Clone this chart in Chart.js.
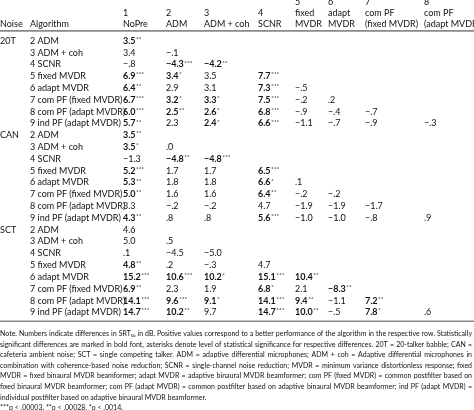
<!DOCTYPE html>
<html>
<head>
<meta charset="utf-8">
<script src="https://cdn.jsdelivr.net/npm/chart.js@4"></script>
<style>
  body { margin: 0; background: #fff; }
  canvas { display: block; }
</style>
</head>
<body>
<canvas id="table" width="474" height="410"></canvas>
<script>
// Table contents
const noises = ['20T', 'CAN', 'SCT'];
const algorithms = ['2 ADM', '3 ADM + coh', '4 SCNR', '5 fixed MVDR', '6 adapt MVDR',
  '7 com PF (fixed MVDR)', '8 com PF (adapt MVDR)', '9 ind PF (adapt MVDR)'];
const columnHeads = [
  ['1', 'NoPre'], ['2', 'ADM'], ['3', 'ADM + coh'], ['4', 'SCNR'],
  ['5', 'fixed', 'MVDR'], ['6', 'adapt', 'MVDR'], ['7', 'com PF', '(fixed MVDR)'], ['8', 'com PF', '(adapt MVDR)']
];
// '' = empty cell; stars mark significance (shown bold)
const values20T = [
  ['3.5**'],
  ['3.4', '−.1'],
  ['−.8', '−4.3***', '−4.2**'],
  ['6.9***', '3.4*', '3.5', '7.7***'],
  ['6.4**', '2.9', '3.1', '7.3***', '−.5'],
  ['6.7***', '3.2*', '3.3*', '7.5***', '−.2', '.2'],
  ['6.0***', '2.5**', '2.6*', '6.8***', '−.9', '−.4', '−.7'],
  ['5.7**', '2.3', '2.4*', '6.6***', '−1.1', '−.7', '−.9', '−.3']
];
const valuesCAN = [
  ['3.5**'],
  ['3.5*', '.0'],
  ['−1.3', '−4.8**', '−4.8***'],
  ['5.2***', '1.7', '1.7', '6.5***'],
  ['5.3**', '1.8', '1.8', '6.6*', '.1'],
  ['5.0**', '1.6', '1.6', '6.4**', '−.2', '−.2'],
  ['3.3', '−.2', '−.2', '4.7', '−1.9', '−1.9', '−1.7'],
  ['4.3**', '.8', '.8', '5.6***', '−1.0', '−1.0', '−.8', '.9']
];
const valuesSCT = [
  ['4.6'],
  ['5.0', '.5'],
  ['.1', '−4.5', '−5.0'],
  ['4.8**', '.2', '−.3', '4.7'],
  ['15.2***', '10.6***', '10.2*', '15.1***', '10.4**'],
  ['6.9**', '2.3', '1.9', '6.8*', '2.1', '−8.3**'],
  ['14.1***', '9.6***', '9.1*', '14.1***', '9.4**', '−1.1', '7.2**'],
  ['14.7***', '10.2**', '9.7', '14.7***', '10.0**', '−.5', '7.8*', '.6']
];
const noteLines = [
  'Note. Numbers indicate differences in SRT₅₀ in dB. Positive values correspond to a better performance of the algorithm in the respective row. Statistically',
  'significant differences are marked in bold font, asterisks denote level of statistical significance for respective differences. 20T = 20-talker babble; CAN =',
  'cafeteria ambient noise; SCT = single competing talker. ADM = adaptive differential microphones; ADM + coh = Adaptive differential microphones in',
  'combination with coherence-based noise reduction; SCNR = single-channel noise reduction; MVDR = minimum variance distortionless response; fixed',
  'MVDR = fixed binaural MVDR beamformer; adapt MVDR = adaptive binaural MVDR beamformer; com PF (fixed MVDR) = common postfilter based on',
  'fixed binaural MVDR beamformer; com PF (adapt MVDR) = common postfilter based on adaptive binaural MVDR beamformer; ind PF (adapt MVDR) =',
  'individual postfilter based on adaptive binaural MVDR beamformer.',
  '***p < .00003. **p < .00028. *p < .0014.'
];

// layout
const colX = [0, 30, 123, 166, 204, 258, 295, 328, 365, 424];
const FONT = 'Lato, "Open Sans", sans-serif';

const groups = [values20T, valuesCAN, valuesSCT];
const points = [];
groups.forEach((g, gi) => {
  g.forEach((row, ri) => {
    const r = gi * algorithms.length + ri;
    if (ri === 0) points.push({ x: colX[0], y: r, text: noises[gi], kind: 'label' });
    points.push({ x: colX[1], y: r, text: algorithms[ri], kind: 'label' });
    row.forEach((v, ci) => {
      if (v) points.push({ x: colX[ci + 2], y: r, text: v, kind: 'value' });
    });
  });
});

const cellText = {
  id: 'cellText',
  afterDatasetsDraw(chart) {
    const ctx = chart.ctx;
    const ys = chart.scales.y;
    const meta = chart.getDatasetMeta(0);
    ctx.save();
    ctx.fillStyle = '#111';
    ctx.textBaseline = 'middle';
    ctx.textAlign = 'left';

    // header
    ctx.font = '9px ' + FONT;
    const headY = ys.getPixelForValue(-1.45);
    ctx.fillText('Noise', colX[0], headY);
    ctx.fillText('Algorithm', colX[1], headY);
    columnHeads.forEach((lines, i) => {
      lines.forEach((t, k) => {
        const y = headY - (lines.length - 1 - k) * 11;
        ctx.fillText(t, colX[i + 2], y);
      });
    });
    // rules
    ctx.strokeStyle = '#8a8a8a';
    ctx.lineWidth = 1.6;
    [ys.getPixelForValue(-0.85), ys.getPixelForValue(23.75)].forEach(y => {
      ctx.beginPath(); ctx.moveTo(0, y); ctx.lineTo(chart.width, y); ctx.stroke();
    });

    meta.data.forEach((el, i) => {
      const p = points[i];
      if (p.kind === 'label') {
        ctx.font = '9px ' + FONT;
        ctx.fillText(p.text, el.x, el.y);
      } else {
        const m = p.text.match(/^([^*]*)(\**)$/);
        const num = m[1], stars = m[2];
        ctx.font = (stars ? 'bold ' : '') + '9px ' + FONT;
        ctx.fillText(num, el.x, el.y);
        if (stars) {
          const w = ctx.measureText(num).width;
          ctx.font = '6.5px ' + FONT;
          ctx.fillText(stars, el.x + w + 0.5, el.y - 2);
        }
      }
    });

    // note
    ctx.font = '7px ' + FONT;
    ctx.textBaseline = 'alphabetic';
    noteLines.forEach((t, i) => {
      const y = 336 + i * 10.6;
      if (i < 6) {
        // justify to full width
        const words = t.split(' ');
        const total = words.reduce((s, w) => s + ctx.measureText(w).width, 0);
        const gap = (472 - total) / (words.length - 1);
        let x = 0;
        words.forEach(w => { ctx.fillText(w, x, y); x += ctx.measureText(w).width + gap; });
      } else {
        ctx.fillText(t, 0, y);
      }
    });
    ctx.restore();
  }
};

new Chart(document.getElementById('table'), {
  type: 'scatter',
  data: { datasets: [{ data: points, pointRadius: 0, pointHoverRadius: 0 }] },
  options: {
    responsive: false,
    animation: false,
    events: [],
    layout: { padding: 0 },
    plugins: { legend: { display: false }, tooltip: { enabled: false } },
    scales: {
      x: { type: 'linear', display: false, min: 0, max: 474 },
      y: { type: 'linear', display: false, reverse: true, min: -3.47, max: 31.27 }
    }
  },
  plugins: [cellText]
});
</script>
</body>
</html>
